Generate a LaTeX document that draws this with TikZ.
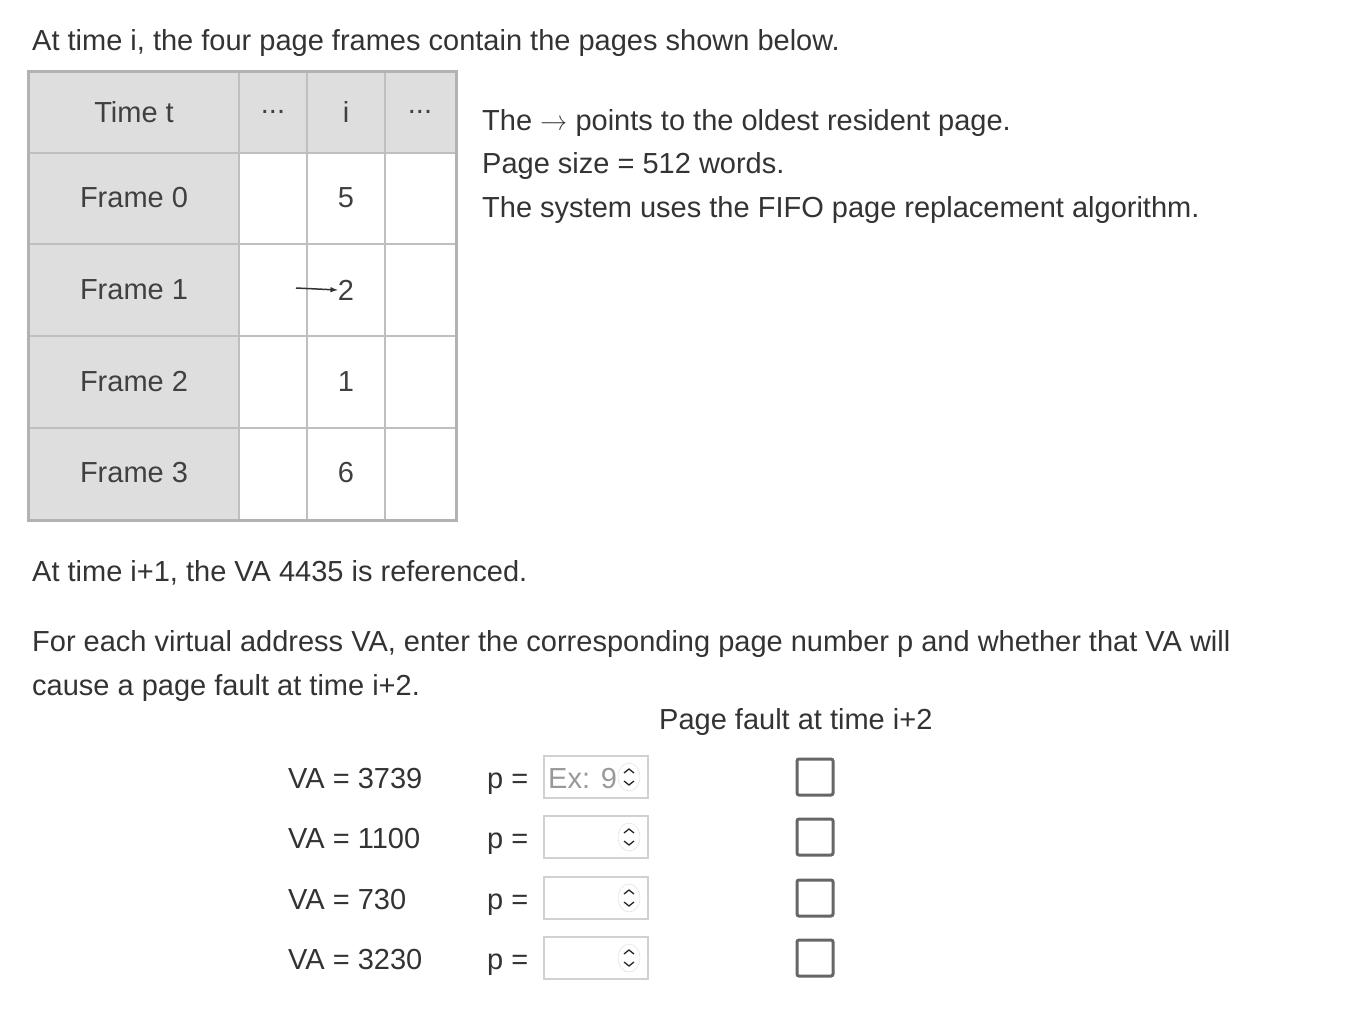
\documentclass[tikz,border=0pt]{standalone}
\usepackage{fontspec}
\setmainfont{Liberation Sans}
\begin{document}
\begin{tikzpicture}[x=1pt,y=-1pt,
 txt/.style={anchor=base west,inner sep=0pt,font=\fontsize{29}{34}\selectfont,text=black!80},
 cell/.style={inner sep=0pt,font=\fontsize{29}{34}\selectfont,text=black!75},
 inbox/.style={draw=black!18,line width=1.5pt},
 chk/.style={draw=black!60,line width=3pt,rounded corners=2pt}]
\useasboundingbox (0,0) rectangle (1350,1012);
\node[txt] (t1) at (32,50) {At time i, the four page frames contain the pages shown below.};
% table
\fill[black!13] (28,71) rectangle (456,153);
\fill[black!13] (28,153) rectangle (239,520);
\foreach \y in {153,244,336,428} \draw[black!25,line width=1.5pt] (28,\y) -- (456,\y);
\foreach \x in {239,307,385} \draw[black!25,line width=1.5pt] (\x,71) -- (\x,520);
\draw[black!30,line width=3pt] (28,71) rectangle (456,520);
\node[cell] (h0) at (134,112) {Time t};
\node[cell] (h1) at (273,112) {...};
\node[cell] (h2) at (346,112) {i};
\node[cell] (h3) at (420,112) {...};
\node[cell] (f0) at (134,198) {Frame 0};
\node[cell] (f1) at (134,290) {Frame 1};
\node[cell] (f2) at (134,382) {Frame 2};
\node[cell] (f3) at (134,473) {Frame 3};
\node[cell] (v0) at (346,198) {5};
\node[cell] (v1) at (346,290) {2};
\node[cell] (v2) at (346,382) {1};
\node[cell] (v3) at (346,473) {6};
\coordinate (a1) at (296,288);
\draw[black!80,line width=1.5pt,-latex] (a1) -- (v1.west);
\node[txt] (n1) at (482,130) {The {\fontfamily{DejaVu Sans}\selectfont\symbol{"2192}} points to the oldest resident page.};
\node[txt] (n2) at (482,173) {Page size = 512 words.};
\node[txt] (n3) at (482,217) {The system uses the FIFO page replacement algorithm.};
\node[txt] (q1) at (32,581) {At time i+1, the VA 4435 is referenced.};
\node[txt] (q2) at (32,651) {For each virtual address VA, enter the corresponding page number p and whether that VA will};
\node[txt] (q3) at (32,695) {cause a page fault at time i+2.};
\node[txt] (pf) at (659,729) {Page fault at time i+2};
\foreach \va/\y [count=\k] in {3739/777,1100/837,730/898,3230/958}{
  \node[txt] (va\k) at (288,\y+11) {VA = \va};
  \node[txt] (p\k) at (487,\y+11) {p =};
  \draw[inbox] (544,\y-21) rectangle (648,\y+21);
  \draw[black!15,fill=white] (629,\y) ellipse (11pt and 14pt);
  \draw[black!85,line width=1.3pt] (624,\y-4) -- (629,\y-8) -- (634,\y-4);
  \draw[black!85,line width=1.3pt] (624,\y+4) -- (629,\y+8) -- (634,\y+4);
  \draw[chk] (797,\y-18) rectangle (833,\y+18);
}
\node[txt,text=black!40] (ex) at (548,788) {Ex: 9};
\end{tikzpicture}
\end{document}
